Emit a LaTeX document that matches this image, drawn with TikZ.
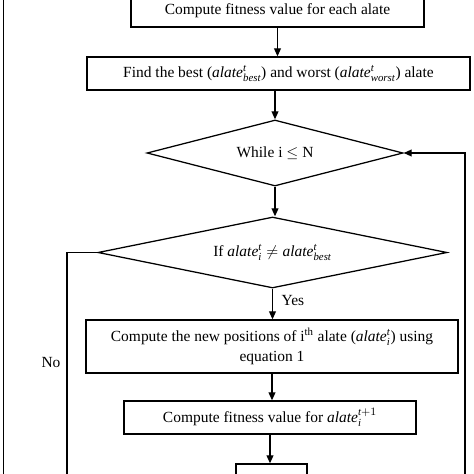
\documentclass[tikz,border=0pt]{standalone}
\usepackage{amsmath}
\usepackage{fontspec}
\setmainfont{Liberation Serif}
\usetikzlibrary{shapes.geometric,arrows.meta}

\begin{document}
\begin{tikzpicture}[
    x=0.025cm, y=-0.025cm,
    box/.style={rectangle, draw, line width=0.9pt, minimum height=0.825cm,
        inner sep=2pt, align=center, font=\fontsize{11}{14}\selectfont},
    cond/.style={diamond, draw, line width=0.9pt, inner sep=0pt, aspect=4,
        font=\fontsize{11}{14}\selectfont},
    arr/.style={-{Triangle[length=2mm, width=1.7mm]}, line width=0.9pt},
    lbl/.style={font=\fontsize{11}{14}\selectfont}
]
\useasboundingbox (0,0) rectangle (474,474);
\clip (0,0) rectangle (474,474);

\node[box, minimum width=7.325cm] (fit) at (277.5,10.5) {Compute fitness value for each alate};
\node[box, minimum width=9.575cm] (best) at (278.5,73.5) {Find the best ($\textit{alate}^{\textit{t}}_{\textit{best}}$) and worst ($\textit{alate}^{\textit{t}}_{\textit{worst}}$) alate};
\node[cond, minimum width=6.4cm, minimum height=1.65cm] (while) at (275,153) {While i $\leq$ N};
\node[cond, minimum width=8.725cm, minimum height=1.775cm] (if) at (272.5,252.5) {If $\textit{alate}^{\textit{t}}_{\textit{i}} \neq \textit{alate}^{\textit{t}}_{\textit{best}}$};
\node[box, minimum width=9.3cm, minimum height=1.325cm] (newpos) at (272,346.5) {Compute the new positions of i\textsuperscript{th} alate ($\textit{alate}^{\textit{t}}_{\textit{i}}$) using\\equation 1};
\node[box, minimum width=7.3cm] (fitnew) at (270,417.5) {Compute fitness value for $\textit{alate}^{\textit{t}+1}_{\textit{i}}$};
\node[box, minimum width=1.775cm] (next) at (271.5,480.5) {};

\node[lbl] (yes) at (293,301) {Yes};
\node[lbl] (no) at (51,363) {No};

% loop ends leaving the picture
\coordinate (noend) at (67,490);
\coordinate (loopend) at (465,490);
\coordinate (outtop) at (3.5,-10);
\coordinate (outbot) at (3.5,490);

\draw[arr] (fit.south) -- (fit.south |- best.north);
\draw[arr] (best.south) -- (best.south -| while.north) -- (while.north);
\draw[arr] (while.south) -- (while.south |- if.north);
\draw[arr] (if.south) -- (if.south |- newpos.north);
\draw[arr] (newpos.south) -- (newpos.south |- fitnew.north);
\draw[arr] (fitnew.south) -- (fitnew.south |- next.north);
\draw[line width=0.9pt] (if.west) -| (noend);
\draw[arr] (loopend) |- (while.east);
\draw[line width=0.9pt] (outtop) -- (outbot);
\end{tikzpicture}
\end{document}
